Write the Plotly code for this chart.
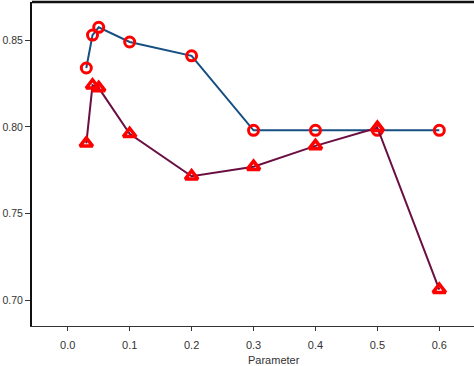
import plotly.graph_objects as go

params = [0.03, 0.04, 0.05, 0.1, 0.2, 0.3, 0.4, 0.5, 0.6]
series_circle = [0.834, 0.853, 0.8575, 0.849, 0.841, 0.798, 0.798, 0.798, 0.798]
series_triangle = [0.7905, 0.824, 0.8225, 0.796, 0.7715, 0.777, 0.789, 0.7995, 0.706]
x_ticks = [0.0, 0.1, 0.2, 0.3, 0.4, 0.5, 0.6]
y_ticks = [0.70, 0.75, 0.80, 0.85]

fig = go.Figure()
fig.add_trace(go.Scatter(
    x=params, y=series_circle, mode="lines+markers",
    line=dict(color="#174f82", width=2),
    marker=dict(symbol="circle-open", size=10, color="#ff0000", line=dict(width=3, color="#ff0000")),
    showlegend=False))
fig.add_trace(go.Scatter(
    x=params, y=series_triangle, mode="lines+markers",
    line=dict(color="#6b0f42", width=2),
    marker=dict(symbol="triangle-up-open", size=11, color="#ff0000", line=dict(width=3.5, color="#ff0000")),
    showlegend=False))

fig.add_shape(type="line", xref="paper", yref="paper", x0=0, x1=1, y0=1, y1=1,
              line=dict(color="#111111", width=2.5))

fig.add_annotation(text="Parameter", x=0.333, xref="x", y=-0.106, yref="paper",
                   showarrow=False, font=dict(size=11, color="#333333"), yanchor="middle")

fig.update_layout(
    width=474, height=366,
    margin=dict(l=32, r=0, t=2, b=40),
    plot_bgcolor="white", paper_bgcolor="white",
    font=dict(family="Liberation Sans, Arial, sans-serif", size=11, color="#333333"),
    xaxis=dict(range=[-0.0577, 0.656], tickvals=x_ticks, ticktext=[f"{v:.1f}" for v in x_ticks],
               showgrid=False, zeroline=False, showline=True, linecolor="#333333", linewidth=1,
               ticks="outside", ticklen=4, tickcolor="#333333", tickfont=dict(size=11),
               ticklabelstandoff=5, automargin=False),
    yaxis=dict(range=[0.685, 0.8721], tickvals=y_ticks, ticktext=[f"{v:.2f}" for v in y_ticks],
               showgrid=False, zeroline=False, showline=True, linecolor="#111111", linewidth=2,
               ticks="outside", ticklen=5, tickcolor="#333333", tickfont=dict(size=10.5),
               ticklabelstandoff=0, automargin=False),
)

fig.write_html("out.html", config={"displayModeBar": False},
               post_script="document.body.style.margin='0';document.body.style.padding='0';")
